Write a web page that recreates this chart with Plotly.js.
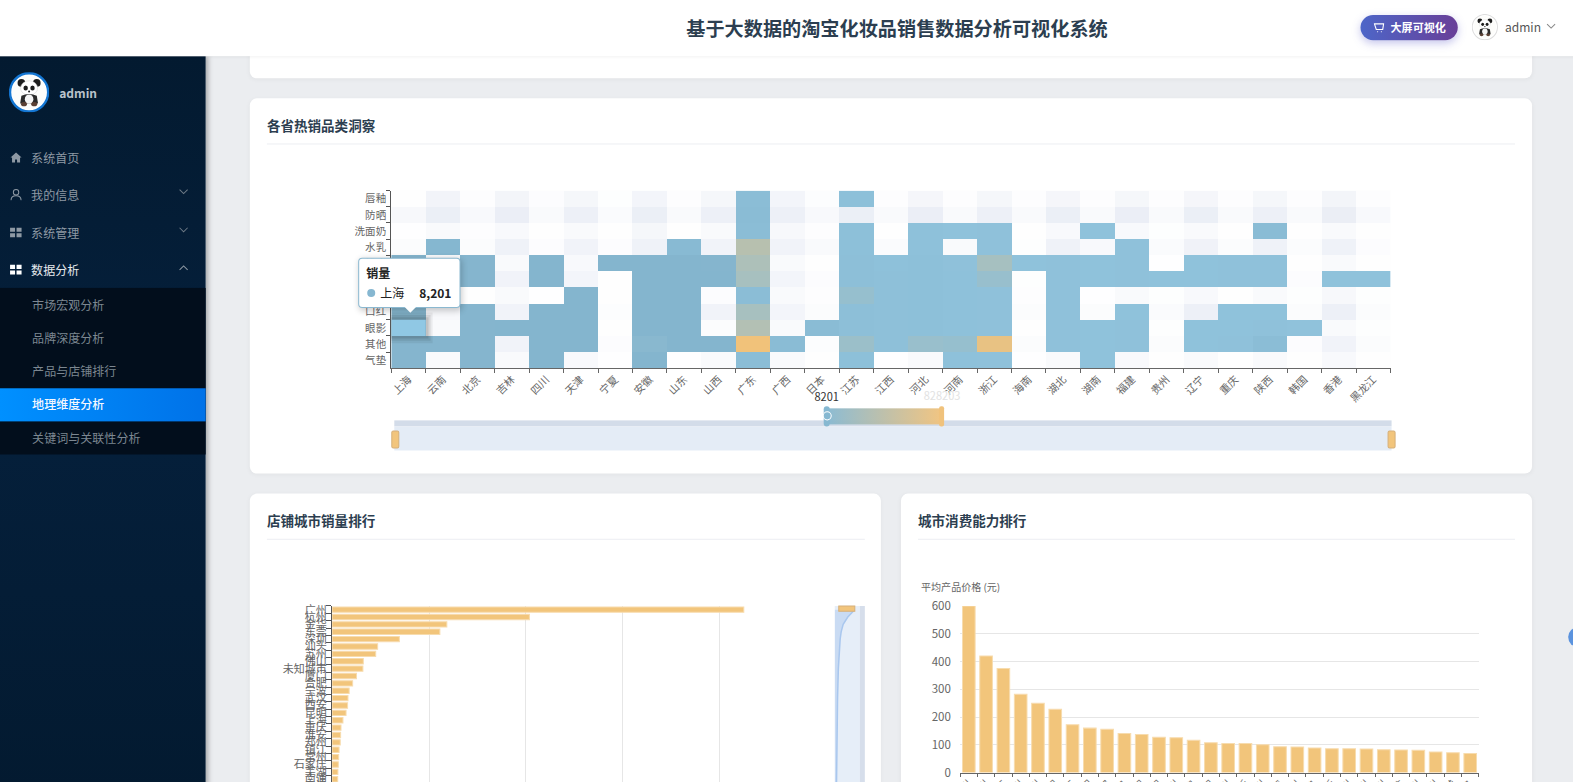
<!DOCTYPE html>
<html lang="zh">
<head>
<meta charset="utf-8">
<title>基于大数据的淘宝化妆品销售数据分析可视化系统</title>
<script src="https://cdn.plot.ly/plotly-3.0.1.min.js"></script>
<style>
html,body{margin:0;padding:0;width:1573px;height:782px;overflow:hidden;background:#ebedf0;font-family:"Noto Sans CJK SC","Noto Sans",sans-serif;}
#root{position:absolute;left:0;top:0;width:1573px;height:782px;transform-origin:0 0;transform:scale(1.0033)}
.abs,.abs *{box-sizing:border-box}
.abs{position:absolute}
#header{left:0;top:0;width:1573px;height:56px;background:#fff;box-shadow:0 1px 3px rgba(0,0,0,.06);z-index:5}
#apptitle{position:absolute;left:684px;top:14px;font-size:19.1px;font-weight:700;color:#2c3e50;line-height:28px;white-space:nowrap}
#bigbtn{position:absolute;left:1356px;top:15px;width:97px;height:25px;border-radius:13px;background:linear-gradient(90deg,#4d66c8,#693f98);box-shadow:0 3px 8px rgba(90,90,200,.35);color:#fff;font-size:11px;font-weight:700;line-height:25px;padding-left:30px}
#bigbtn svg{position:absolute;left:13px;top:7px}
#user{position:absolute;left:1500px;top:18px;font-size:12px;color:#555;line-height:18px}
#sidebar{left:0;top:56px;width:205px;height:736px;background:linear-gradient(180deg,#031a30,#05203c 45%,#031a30);box-shadow:2px 0 5px rgba(0,0,0,.3);z-index:4;color:#8e99a4;font-size:12px}
.mi{position:absolute;left:31px;line-height:18px;white-space:nowrap}
.ic{position:absolute;left:10px}
.chev{position:absolute;left:178px}
#submenu{position:absolute;left:0;top:231px;width:205px;height:166px;background:#020e1c}
#active{position:absolute;left:0;top:331px;width:205px;height:33px;background:linear-gradient(90deg,#0090ff,#0072e8)}
.card{background:#fff;border-radius:7px;box-shadow:0 1px 4px rgba(0,0,0,.04)}
.ct{position:absolute;font-size:13.5px;font-weight:700;color:#2c3e50;line-height:18px;white-space:nowrap}
.sep{position:absolute;height:1px;background:#eceef2}
.plot{position:absolute}
#tip{left:357px;top:257px;width:102px;height:50px;background:#fff;border:1px solid #8ab8d0;border-radius:4px;box-shadow:1px 2px 6px rgba(0,0,0,.2);z-index:3;font-size:12px;color:#222}
#tip:after{content:"";position:absolute;left:47px;top:44px;width:8px;height:8px;background:#fff;transform:rotate(45deg)}
#zoomTop{left:393px;top:419px;width:994px;height:6px;background:#d3dce9;z-index:1}
#zoomBody{left:393px;top:425px;width:994px;height:24px;background:#e4ecf6;z-index:1}
.zh{position:absolute;width:6px;height:16px;top:429px;background:#f2c57c;border:1px solid #d6b07a;border-radius:2px;z-index:2}
#vm{left:824px;top:407px;width:114px;height:16px;background:linear-gradient(90deg,#86b8d1,#f0c27c);z-index:2;opacity:.95}
</style>
</head>
<body>
<svg width="0" height="0" style="position:absolute">
  <symbol id="panda" viewBox="0 0 40 40">
    <circle cx="20" cy="20" r="20" fill="#fdfdfb"/>
    <circle cx="11" cy="9" r="4.5" fill="#1d1d1d"/><circle cx="29" cy="9" r="4.5" fill="#1d1d1d"/>
    <ellipse cx="20" cy="15" rx="10" ry="8.5" fill="#fff" stroke="#ccc" stroke-width=".5"/>
    <ellipse cx="16" cy="15" rx="2.6" ry="3" fill="#1d1d1d"/><ellipse cx="24" cy="15" rx="2.6" ry="3" fill="#1d1d1d"/>
    <circle cx="20" cy="19" r="1.2" fill="#1d1d1d"/>
    <path d="M11 24 q9 -4 18 0 l1.5 9 h-21z" fill="#2a2a2a"/>
    <ellipse cx="20" cy="28" rx="5" ry="5.5" fill="#f5f5f5"/>
    <ellipse cx="14" cy="34" rx="3.5" ry="2.5" fill="#5b4034"/><ellipse cx="26" cy="34" rx="3.5" ry="2.5" fill="#5b4034"/>
  </symbol>
</svg>
<div id="root">
<div id="header" class="abs">
  <div id="apptitle">基于大数据的淘宝化妆品销售数据分析可视化系统</div>
  <div id="bigbtn"><svg width="11" height="11" viewBox="0 0 12 12"><path d="M1 2h10l-1 6H3zM4 10.5h1M8 10.5h1" fill="none" stroke="#fff" stroke-width="1.2"/></svg>大屏可视化</div>
  <svg style="position:absolute;left:1467px;top:14px" width="26" height="26"><circle cx="13" cy="13" r="12.6" fill="#fff" stroke="#ddd"/><use href="#panda" x="2" y="2" width="22" height="22"/></svg>
  <div id="user">admin</div>
  <svg style="position:absolute;left:1541px;top:23px" width="10" height="7"><path d="M1 1l4 4 4-4" fill="none" stroke="#888"/></svg>
</div>

<div id="sidebar" class="abs">
  <svg style="position:absolute;left:9px;top:16px" width="40" height="40"><circle cx="20" cy="20" r="19" fill="#fff" stroke="#1476d2" stroke-width="2.4"/><use href="#panda" x="3" y="3" width="34" height="34"/></svg>
  <div class="mi" style="left:59px;top:28px;color:#b9c2cb;font-weight:700">admin</div>

  <svg class="ic" style="top:95px" width="12" height="12"><path d="M6 1L0.5 6H2v5h3V8h2v3h3V6h1.5z" fill="#8e99a4"/></svg>
  <div class="mi" style="top:92px">系统首页</div>
  <svg class="ic" style="top:132px" width="12" height="12"><circle cx="6" cy="3.6" r="2.7" fill="none" stroke="#8e99a4"/><path d="M1 11.5c0-3 2-4.5 5-4.5s5 1.500 5 4.500" fill="none" stroke="#8e99a4"/></svg>
  <div class="mi" style="top:129px">我的信息</div>
  <svg class="chev" style="top:132px" width="10" height="7"><path d="M1 1l4 4 4-4" fill="none" stroke="#6e7a86"/></svg>
  <svg class="ic" style="top:170px" width="12" height="12"><path d="M0 1h5v4H0zM6.500 1h5v4h-5zM0 6.500h5v4H0zM6.500 6.500h5v4h-5z" fill="#8e99a4"/></svg>
  <div class="mi" style="top:167px">系统管理</div>
  <svg class="chev" style="top:170px" width="10" height="7"><path d="M1 1l4 4 4-4" fill="none" stroke="#6e7a86"/></svg>
  <svg class="ic" style="top:207px" width="12" height="12"><path d="M0 1h5v4H0zM6.500 1h5v4h-5zM0 6.500h5v4H0zM6.500 6.500h5v4h-5z" fill="#fff"/></svg>
  <div class="mi" style="top:204px;color:#e6eaee">数据分析</div>
  <svg class="chev" style="top:207px" width="10" height="7"><path d="M1 6l4-4 4 4" fill="none" stroke="#8e99a4"/></svg>

  <div id="submenu"></div>
  <div id="active"></div>
  <div class="mi" style="left:32px;top:239px;color:#7c8791">市场宏观分析</div>
  <div class="mi" style="left:32px;top:272px;color:#7c8791">品牌深度分析</div>
  <div class="mi" style="left:32px;top:305px;color:#7c8791">产品与店铺排行</div>
  <div class="mi" style="left:32px;top:338px;color:#f4f8ff;font-weight:500">地理维度分析</div>
  <div class="mi" style="left:32px;top:372px;color:#7c8791">关键词与关联性分析</div>
</div>

<div class="abs card" style="left:249px;top:40px;width:1278px;height:38px"></div>
<div class="abs card" style="left:249px;top:98px;width:1278px;height:374px"></div>
<div class="abs card" style="left:249px;top:492px;width:629px;height:340px"></div>
<div class="abs card" style="left:898px;top:492px;width:629px;height:340px"></div>

<div class="ct" style="left:266px;top:116px;z-index:1">各省热销品类洞察</div>
<div class="sep" style="left:266px;top:143px;width:1244px;z-index:1"></div>
<div class="ct" style="left:266px;top:509px;z-index:1">店铺城市销量排行</div>
<div class="sep" style="left:266px;top:537px;width:596px;z-index:1"></div>
<div class="ct" style="left:915px;top:509px;z-index:1">城市消费能力排行</div>
<div class="sep" style="left:915px;top:537px;width:595px;z-index:1"></div>

<div id="heat" class="plot" style="left:249px;top:98px;width:1278px;height:374px"></div>
<div id="cityBar" class="plot" style="left:249px;top:492px;width:629px;height:350px"></div>
<div id="priceBar" class="plot" style="left:898px;top:492px;width:629px;height:350px"></div>

<div id="zoomTop" class="abs"></div>
<div id="zoomBody" class="abs"></div>
<div class="zh" style="left:390px"></div>
<div class="zh" style="left:1383px"></div>
<div id="vm" class="abs"></div>
<div class="abs" style="left:821px;top:405px;width:6px;height:20px;border-radius:3px;background:#86b8d1;z-index:2"></div>
<div class="abs" style="left:820px;top:410px;width:9px;height:9px;border-radius:50%;background:#86b8d1;border:1.5px solid #fff;z-index:2"></div>
<div class="abs" style="left:936px;top:405px;width:5px;height:20px;border-radius:2px;background:#f0c27c;z-index:2"></div>
<div class="abs" style="left:804px;top:388px;width:40px;text-align:center;font-size:11px;line-height:15px;color:#333;z-index:2">8201</div>
<div class="abs" style="left:912px;top:387px;width:54px;text-align:center;font-size:11px;line-height:15px;color:#e2e2e2;z-index:2">828203</div>

<div id="tip" class="abs">
  <div style="position:absolute;left:7px;top:6px;font-weight:700;line-height:16px">销量</div>
  <div style="position:absolute;left:8px;top:30px;width:8px;height:8px;border-radius:50%;background:#86b7d1"></div>
  <div style="position:absolute;left:21px;top:26px;line-height:16px">上海</div>
  <div style="position:absolute;right:8px;top:26px;font-weight:700;line-height:16px">8,201</div>
</div>

<div class="abs" style="left:1563px;top:625px;width:20px;height:20px;border-radius:50%;background:#5b93de;z-index:6"></div>
</div>

<script>
/* ---------- heatmap ---------- */
const provinces = ['上海','云南','北京','吉林','四川','天津','宁夏','安徽','山东','山西','广东','广西','日本','江苏','江西','河北','河南','浙江','海南','湖北','湖南','福建','贵州','辽宁','重庆','陕西','韩国','香港','黑龙江'];
const productTypes = ['唇釉','防晒','洗面奶','水乳','粉底','面膜','精华','口红','眼影','其他','气垫'];
const salesLipGlaze  = [300,3400,500,3100,800,2500,400,3000,500,2500,10500,3000,700,9800,500,2600,500,2500,500,2600,500,2500,500,2600,500,2500,500,3100,500];
const salesSunscreen = [2000,5000,1800,5100,1500,4500,1200,5000,1500,4600,10800,4500,1800,5000,1500,5100,1500,4500,1500,5000,1500,5100,1500,5000,1500,4600,1500,5200,1800];
const salesCleanser  = [200,1500,500,1800,300,1500,300,2500,300,1500,10500,2000,500,9800,300,9500,9200,9300,300,1800,9100,1800,400,1500,300,11000,300,1500,300];
const salesLotion    = [1000,12500,1000,4000,800,3500,800,4000,11500,3500,340000,3500,1500,9800,1200,9500,1500,9400,400,4000,1800,9300,1200,3800,1000,4000,1000,4000,800];
const salesFoundation= [13500,1500,14000,1500,13500,1800,13000,13500,13000,14000,250000,1500,300,9900,9500,9800,9300,190000,9200,9400,9100,9300,200,9200,9300,9400,300,1500,300];
const salesMask      = [13800,1000,14000,3500,13800,3000,300,13500,13000,13800,200000,3000,800,9900,9600,9800,9500,70000,400,9400,9200,9300,9100,9200,9300,9400,800,9100,9100];
const salesEssence   = [14000,1000,300,1500,200,13500,300,13500,13000,800,10500,1500,500,60000,9600,9800,9500,9400,500,9300,200,1500,400,1800,300,1500,400,2000,400];
const salesLipstick  = [14500,2000,14000,3500,13800,13500,700,13500,13000,3500,200000,3000,1000,9900,9600,9800,9500,9400,900,9300,1000,9200,1200,4500,9100,9200,1000,4500,1000];
const salesEyeshadow = [8201,1500,14000,13800,13500,13600,300,13500,13000,1000,300000,1500,11000,9900,9600,9800,9500,9400,300,9300,9200,9300,400,9200,9100,9300,9000,1500,400];
const salesOther     = [14000,14000,14200,3500,13800,13500,800,22000,13000,13500,828203,11000,700,100000,9600,80000,60000,750000,1000,9300,9200,9400,1000,9200,9300,10500,800,3500,1000];
const salesCushion   = [14000,1500,14200,1500,13800,1800,200,13500,200,1500,10500,1500,300,9800,200,1500,9500,9400,200,1500,9200,1800,300,1500,300,1500,300,1800,300];
const salesMatrix = [salesLipGlaze,salesSunscreen,salesCleanser,salesLotion,salesFoundation,salesMask,salesEssence,salesLipstick,salesEyeshadow,salesOther,salesCushion];

/* ---------- city sales ---------- */
const salesCities = ['广州','杭州','金华','东莞','深圳','汕头','苏州','佛山','未知城市','厦门','合肥','宁波','武汉','西安','昆明','上海','重庆','淮安','郑州','镇江','常州','石家庄','芜湖','南通','天津','福州'];
const citySales = [2124000,1018000,592000,556000,347000,235000,225000,161000,159000,126000,106000,88000,82000,80000,72000,56000,46000,44000,42000,36000,34000,32000,30000,29000,28000,27000];
const sliderRows = [0,1,2,3,4,5,6,8,12,18,25.5];
const sliderShape = [1.0,0.65,0.42,0.32,0.27,0.24,0.21,0.18,0.14,0.1,0.08];

/* ---------- city price ---------- */
const priceCities = ['徐州','苏州','南京','杭州','广州','贵阳','镇江','厦门','西安','义乌','洛阳','南阳','福州','晋泉','咸阳','常州','临沂','温州','上海','银川','青岛','济沂','泰州','台州','扬州','潍坊','滁州','兰州','连云港','烟岛'];
const avgPrice = [600,420,375,282,250,228,172,160,156,141,137,127,125,116,107,105,105,100,93,92,88,86,86,85,82,81,80,74,71,69];

const FONT = '"Noto Sans CJK SC","Noto Sans",sans-serif';
const baseFont = {family:FONT,size:10.5,color:'#666'};
const cfg = {staticPlot:true,displayModeBar:false};
const zmax = 828203;
const hiRow = productTypes.indexOf('眼影');
const halo = (dx,dy,a)=>({type:'rect',xref:'x',yref:'y',layer:'above',line:{width:0},fillcolor:'rgba(0,0,0,'+a+')',x0:-0.5-dx,x1:0.5+dx,y0:hiRow-0.5-dy,y1:hiRow+0.5+dy});

Plotly.newPlot('heat',[{
  type:'heatmap',x:provinces,y:productTypes,z:salesMatrix,zmin:0,zmax:zmax,showscale:false,hoverinfo:'skip',
  colorscale:[[0,'#ffffff'],[8200/zmax,'#dfe4f0'],[8201/zmax,'#92c5de'],[13000/zmax,'#84b5ce'],[40000/zmax,'#94bfd0'],[1,'#f1c27a']]
}],{
  width:1278,height:374,margin:{l:141,r:141,t:92,b:105},paper_bgcolor:'rgba(0,0,0,0)',plot_bgcolor:'rgba(0,0,0,0)',font:baseFont,
  xaxis:{type:'category',range:[-0.5,provinces.length-0.5],tickson:'boundaries',ticks:'outside',ticklen:4,tickcolor:'#666',showline:true,linecolor:'#666',showgrid:false,tickangle:-45,tickfont:baseFont,zeroline:false},
  yaxis:{type:'category',range:[productTypes.length-0.5,-0.5],tickson:'boundaries',ticks:'outside',ticklen:4,tickcolor:'#555',showline:true,linecolor:'#555',showgrid:false,tickfont:baseFont,zeroline:false,ticklabelstandoff:2},
  shapes:[halo(.2,.45,.06),halo(.14,.3,.08),halo(.08,.16,.1),
    {type:'rect',xref:'x',yref:'y',layer:'above',line:{width:0},fillcolor:'#90c8e4',x0:-0.5,x1:0.5,y0:hiRow-0.5,y1:hiRow+0.5}]
},cfg);

const plotW = 868-331;
Plotly.newPlot('cityBar',[{
  type:'bar',orientation:'h',x:citySales,y:salesCities,marker:{color:'#f2c57b',line:{color:'#f7dcae',width:1}},hoverinfo:'skip'
},{
  type:'scatter',mode:'lines',x:sliderShape,y:sliderRows,xaxis:'x2',yaxis:'y2',fill:'tozerox',fillcolor:'#c9dbf3',line:{color:'#a9c7ee',width:1.5},hoverinfo:'skip'
}],{
  width:629,height:350,margin:{l:82,r:10,t:112,b:47.4},paper_bgcolor:'rgba(0,0,0,0)',plot_bgcolor:'rgba(0,0,0,0)',font:baseFont,showlegend:false,bargap:0.27,
  xaxis:{domain:[0,483/plotW],range:[0,2500000],tick0:0,dtick:500000,showgrid:true,gridcolor:'#e6e6e6',zeroline:false,showticklabels:false,ticks:''},
  yaxis:{type:'category',range:[salesCities.length-0.5,-0.5],tickmode:'array',tickvals:salesCities,ticktext:salesCities,tickson:'boundaries',ticks:'outside',ticklen:5,tickcolor:'#555',showline:true,linecolor:'#555',showgrid:false,tickfont:{family:FONT,size:11,color:'#666'},ticklabelstandoff:2},
  xaxis2:{domain:[(832-331)/plotW,(852-331)/plotW],range:[0,1],visible:false,anchor:'y2'},
  yaxis2:{range:[salesCities.length-0.5,-0.5],visible:false,anchor:'x2',domain:[0,1]},
  shapes:[
    {type:'rect',xref:'paper',yref:'paper',layer:'below',line:{width:0},fillcolor:'#e6eef8',x0:(832-331)/plotW,x1:(857-331)/plotW,y0:0,y1:1},
    {type:'rect',xref:'paper',yref:'paper',layer:'below',line:{width:0},fillcolor:'#d6deeb',x0:(857-331)/plotW,x1:(862-331)/plotW,y0:0,y1:1},
    {type:'rect',xref:'paper',yref:'paper',layer:'above',line:{width:1,color:'#d6b07a'},fillcolor:'#f2c57c',x0:(836-331)/plotW,x1:(852-331)/plotW,y0:0.972,y1:1.0}
  ]
},cfg);

Plotly.newPlot('priceBar',[{
  type:'bar',x:priceCities,y:avgPrice,marker:{color:'#f2c57b',line:{color:'#f7dcae',width:1}},hoverinfo:'skip'
}],{
  width:629,height:350,margin:{l:58.5,r:53,t:112,b:72},paper_bgcolor:'rgba(0,0,0,0)',plot_bgcolor:'rgba(0,0,0,0)',font:baseFont,bargap:0.27,
  xaxis:{type:'category',tickson:'boundaries',ticks:'outside',ticklen:3,tickcolor:'#666',showline:true,linecolor:'#666',tickangle:-45,tickmode:'linear',dtick:1,tickfont:baseFont},
  yaxis:{range:[0,600],dtick:100,gridcolor:'#e6e6e6',zeroline:false,tickfont:{family:FONT,size:11.5,color:'#666'},ticks:'outside',ticklen:6,tickcolor:'rgba(0,0,0,0)',showline:false},
  annotations:[{text:'平均产品价格 (元)',xref:'paper',yref:'paper',x:(915-956.5)/517.5,y:1+19/166,xanchor:'left',yanchor:'middle',showarrow:false,font:{family:FONT,size:10,color:'#666'}}]
},cfg);
</script>
</body>
</html>
